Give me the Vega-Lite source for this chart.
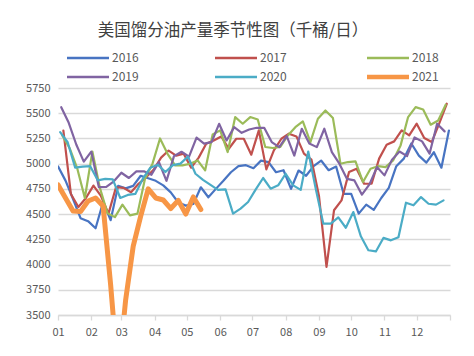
{
  "$schema": "https://vega.github.io/schema/vega-lite/v6.json",
  "width": 392,
  "height": 227,
  "autosize": {"type": "none"},
  "padding": {"left": 58, "top": 88, "right": 24, "bottom": 41},
  "background": "white",
  "config": {
    "view": {"stroke": null},
    "font": "Noto Sans CJK SC"
  },
  "title": {
    "text": "美国馏分油产量季节性图（千桶/日）",
    "font": "Noto Sans CJK SC",
    "fontSize": 16.5,
    "fontWeight": "normal",
    "color": "#404040",
    "anchor": "middle",
    "frame": "group",
    "dx": -21,
    "dy": -3,
    "offset": 10
  },
  "data": {
    "values": [
      {"s":"2016","d":0,"v":4974},{"s":"2016","d":7,"v":4832},{"s":"2016","d":14,"v":4650},{"s":"2016","d":21,"v":4460},{"s":"2016","d":28,"v":4430},{"s":"2016","d":35,"v":4360},{"s":"2016","d":42,"v":4620},{"s":"2016","d":49,"v":4440},{"s":"2016","d":56,"v":4780},{"s":"2016","d":63,"v":4755},
      {"s":"2016","d":70,"v":4780},{"s":"2016","d":77,"v":4880},{"s":"2016","d":84,"v":4855},{"s":"2016","d":91,"v":4830},{"s":"2016","d":98,"v":4785},{"s":"2016","d":105,"v":4715},{"s":"2016","d":112,"v":4615},{"s":"2016","d":119,"v":4584},{"s":"2016","d":126,"v":4600},{"s":"2016","d":133,"v":4766},
      {"s":"2016","d":140,"v":4667},{"s":"2016","d":147,"v":4750},{"s":"2016","d":154,"v":4830},{"s":"2016","d":161,"v":4915},{"s":"2016","d":168,"v":4975},{"s":"2016","d":175,"v":4985},{"s":"2016","d":182,"v":4955},{"s":"2016","d":189,"v":5030},{"s":"2016","d":196,"v":5015},{"s":"2016","d":203,"v":4915},
      {"s":"2016","d":210,"v":4935},{"s":"2016","d":217,"v":4750},{"s":"2016","d":224,"v":4932},{"s":"2016","d":231,"v":4880},{"s":"2016","d":238,"v":4975},{"s":"2016","d":245,"v":5031},{"s":"2016","d":252,"v":4935},{"s":"2016","d":259,"v":4971},{"s":"2016","d":266,"v":4700},{"s":"2016","d":273,"v":4700},
      {"s":"2016","d":280,"v":4505},{"s":"2016","d":287,"v":4594},{"s":"2016","d":294,"v":4542},{"s":"2016","d":301,"v":4660},{"s":"2016","d":308,"v":4760},{"s":"2016","d":315,"v":4975},{"s":"2016","d":322,"v":5050},{"s":"2016","d":329,"v":5200},{"s":"2016","d":336,"v":5080},{"s":"2016","d":343,"v":5010},
      {"s":"2016","d":350,"v":5113},{"s":"2016","d":357,"v":4960},{"s":"2016","d":364,"v":5328},

      {"s":"2017","d":5,"v":5328},{"s":"2017","d":12,"v":4700},{"s":"2017","d":19,"v":4570},{"s":"2017","d":26,"v":4660},{"s":"2017","d":33,"v":4783},{"s":"2017","d":40,"v":4680},{"s":"2017","d":47,"v":4505},{"s":"2017","d":54,"v":4766},{"s":"2017","d":61,"v":4760},{"s":"2017","d":68,"v":4716},
      {"s":"2017","d":75,"v":4800},{"s":"2017","d":82,"v":4865},{"s":"2017","d":89,"v":4940},{"s":"2017","d":96,"v":5060},{"s":"2017","d":103,"v":5130},{"s":"2017","d":110,"v":5080},{"s":"2017","d":117,"v":5099},{"s":"2017","d":124,"v":4960},{"s":"2017","d":131,"v":5060},{"s":"2017","d":138,"v":5197},
      {"s":"2017","d":145,"v":5230},{"s":"2017","d":152,"v":5270},{"s":"2017","d":159,"v":5148},{"s":"2017","d":166,"v":5247},{"s":"2017","d":173,"v":5247},{"s":"2017","d":180,"v":5089},{"s":"2017","d":187,"v":5330},{"s":"2017","d":194,"v":4943},{"s":"2017","d":201,"v":5131},{"s":"2017","d":208,"v":5247},
      {"s":"2017","d":215,"v":5297},{"s":"2017","d":222,"v":5270},{"s":"2017","d":229,"v":5100},{"s":"2017","d":236,"v":5040},{"s":"2017","d":243,"v":4680},{"s":"2017","d":250,"v":3976},{"s":"2017","d":257,"v":4538},{"s":"2017","d":264,"v":4636},{"s":"2017","d":271,"v":4917},{"s":"2017","d":278,"v":4950},
      {"s":"2017","d":285,"v":4801},{"s":"2017","d":292,"v":4801},{"s":"2017","d":299,"v":5050},{"s":"2017","d":306,"v":5188},{"s":"2017","d":313,"v":5221},{"s":"2017","d":320,"v":5330},{"s":"2017","d":327,"v":5280},{"s":"2017","d":334,"v":5396},{"s":"2017","d":341,"v":5254},{"s":"2017","d":348,"v":5214},
      {"s":"2017","d":355,"v":5400},{"s":"2017","d":362,"v":5594},

      {"s":"2018","d":4,"v":5280},{"s":"2018","d":11,"v":5150},{"s":"2018","d":18,"v":4950},{"s":"2018","d":25,"v":4660},{"s":"2018","d":32,"v":5120},{"s":"2018","d":39,"v":4760},{"s":"2018","d":46,"v":4510},{"s":"2018","d":53,"v":4470},{"s":"2018","d":60,"v":4594},{"s":"2018","d":67,"v":4488},
      {"s":"2018","d":74,"v":4505},{"s":"2018","d":81,"v":4851},{"s":"2018","d":88,"v":5000},{"s":"2018","d":95,"v":5250},{"s":"2018","d":102,"v":5098},{"s":"2018","d":109,"v":4983},{"s":"2018","d":116,"v":4983},{"s":"2018","d":123,"v":4999},{"s":"2018","d":130,"v":5032},{"s":"2018","d":137,"v":4933},
      {"s":"2018","d":144,"v":5290},{"s":"2018","d":151,"v":5330},{"s":"2018","d":158,"v":5115},{"s":"2018","d":165,"v":5462},{"s":"2018","d":172,"v":5396},{"s":"2018","d":179,"v":5462},{"s":"2018","d":186,"v":5438},{"s":"2018","d":193,"v":5165},{"s":"2018","d":200,"v":5155},{"s":"2018","d":207,"v":5165},
      {"s":"2018","d":214,"v":5280},{"s":"2018","d":221,"v":5362},{"s":"2018","d":228,"v":5419},{"s":"2018","d":235,"v":5214},{"s":"2018","d":242,"v":5445},{"s":"2018","d":249,"v":5527},{"s":"2018","d":256,"v":5452},{"s":"2018","d":263,"v":4999},{"s":"2018","d":270,"v":5016},{"s":"2018","d":277,"v":5023},
      {"s":"2018","d":284,"v":4818},{"s":"2018","d":291,"v":4950},{"s":"2018","d":298,"v":4975},{"s":"2018","d":305,"v":4966},{"s":"2018","d":312,"v":5032},{"s":"2018","d":319,"v":5181},{"s":"2018","d":326,"v":5462},{"s":"2018","d":333,"v":5560},{"s":"2018","d":340,"v":5537},{"s":"2018","d":347,"v":5386},
      {"s":"2018","d":354,"v":5428},{"s":"2018","d":361,"v":5584},

      {"s":"2019","d":3,"v":5560},{"s":"2019","d":10,"v":5405},{"s":"2019","d":17,"v":5190},{"s":"2019","d":24,"v":5020},{"s":"2019","d":31,"v":5120},{"s":"2019","d":38,"v":4768},{"s":"2019","d":45,"v":4770},{"s":"2019","d":52,"v":4825},{"s":"2019","d":59,"v":4910},{"s":"2019","d":66,"v":4858},
      {"s":"2019","d":73,"v":4924},{"s":"2019","d":80,"v":4924},{"s":"2019","d":87,"v":4890},{"s":"2019","d":94,"v":5016},{"s":"2019","d":101,"v":4830},{"s":"2019","d":108,"v":5075},{"s":"2019","d":115,"v":5118},{"s":"2019","d":122,"v":5070},{"s":"2019","d":129,"v":5258},{"s":"2019","d":136,"v":5198},
      {"s":"2019","d":143,"v":5214},{"s":"2019","d":150,"v":5395},{"s":"2019","d":157,"v":5230},{"s":"2019","d":164,"v":5362},{"s":"2019","d":171,"v":5306},{"s":"2019","d":178,"v":5339},{"s":"2019","d":185,"v":5356},{"s":"2019","d":192,"v":5355},{"s":"2019","d":199,"v":5214},{"s":"2019","d":206,"v":5164},
      {"s":"2019","d":213,"v":5273},{"s":"2019","d":220,"v":5080},{"s":"2019","d":227,"v":5346},{"s":"2019","d":234,"v":5200},{"s":"2019","d":241,"v":5164},{"s":"2019","d":248,"v":5346},{"s":"2019","d":255,"v":5115},{"s":"2019","d":262,"v":5000},{"s":"2019","d":269,"v":4850},{"s":"2019","d":276,"v":4834},
      {"s":"2019","d":283,"v":4693},{"s":"2019","d":290,"v":4795},{"s":"2019","d":297,"v":4966},{"s":"2019","d":304,"v":4884},{"s":"2019","d":311,"v":5040},{"s":"2019","d":318,"v":5120},{"s":"2019","d":325,"v":5075},{"s":"2019","d":332,"v":5260},{"s":"2019","d":339,"v":5221},{"s":"2019","d":346,"v":5100},
      {"s":"2019","d":353,"v":5396},{"s":"2019","d":360,"v":5320},

      {"s":"2020","d":2,"v":5313},{"s":"2020","d":9,"v":5212},{"s":"2020","d":16,"v":4960},{"s":"2020","d":23,"v":4970},{"s":"2020","d":30,"v":4975},{"s":"2020","d":37,"v":4835},{"s":"2020","d":44,"v":4850},{"s":"2020","d":51,"v":4845},{"s":"2020","d":58,"v":4660},{"s":"2020","d":65,"v":4690},
      {"s":"2020","d":72,"v":4700},{"s":"2020","d":79,"v":4851},{"s":"2020","d":86,"v":4960},{"s":"2020","d":93,"v":4990},{"s":"2020","d":100,"v":4917},{"s":"2020","d":107,"v":4985},{"s":"2020","d":114,"v":5000},{"s":"2020","d":121,"v":5070},{"s":"2020","d":128,"v":4900},{"s":"2020","d":135,"v":4840},
      {"s":"2020","d":142,"v":4790},{"s":"2020","d":149,"v":4740},{"s":"2020","d":156,"v":4745},{"s":"2020","d":163,"v":4505},{"s":"2020","d":170,"v":4554},{"s":"2020","d":177,"v":4620},{"s":"2020","d":184,"v":4742},{"s":"2020","d":191,"v":4858},{"s":"2020","d":198,"v":4752},{"s":"2020","d":205,"v":4785},
      {"s":"2020","d":212,"v":4900},{"s":"2020","d":219,"v":4785},{"s":"2020","d":226,"v":4740},{"s":"2020","d":233,"v":5120},{"s":"2020","d":240,"v":4750},{"s":"2020","d":247,"v":4406},{"s":"2020","d":254,"v":4406},{"s":"2020","d":261,"v":4468},{"s":"2020","d":268,"v":4365},{"s":"2020","d":275,"v":4520},
      {"s":"2020","d":282,"v":4280},{"s":"2020","d":289,"v":4142},{"s":"2020","d":296,"v":4130},{"s":"2020","d":303,"v":4264},{"s":"2020","d":310,"v":4240},{"s":"2020","d":317,"v":4270},{"s":"2020","d":324,"v":4613},{"s":"2020","d":331,"v":4587},{"s":"2020","d":338,"v":4669},{"s":"2020","d":345,"v":4603},
      {"s":"2020","d":352,"v":4594},{"s":"2020","d":359,"v":4636},

      {"s":"2021","d":0,"v":4790},{"s":"2021","d":7,"v":4660},{"s":"2021","d":14,"v":4530},{"s":"2021","d":21,"v":4525},{"s":"2021","d":28,"v":4630},{"s":"2021","d":35,"v":4660},{"s":"2021","d":42,"v":4580},{"s":"2021","d":49,"v":3800},{"s":"2021","d":56,"v":2900},{"s":"2021","d":63,"v":3650},
      {"s":"2021","d":70,"v":4180},{"s":"2021","d":77,"v":4480},{"s":"2021","d":84,"v":4750},{"s":"2021","d":91,"v":4660},{"s":"2021","d":98,"v":4640},{"s":"2021","d":105,"v":4555},{"s":"2021","d":112,"v":4636},{"s":"2021","d":119,"v":4500},{"s":"2021","d":126,"v":4670},{"s":"2021","d":133,"v":4545}
    ]
  },
  "mark": {"type": "line", "clip": true, "strokeJoin": "round", "strokeCap": "round"},
  "encoding": {
    "x": {
      "field": "d",
      "type": "quantitative",
      "scale": {"domain": [0, 365], "nice": false, "zero": false},
      "axis": {
        "title": null,
        "values": [0, 31, 59, 90, 120, 151, 181, 212, 243, 273, 304, 334, 365],
        "labelExpr": "datum.value >= 365 ? '' : timeFormat(datetime(2021, 0, 1 + datum.value), '%m')",
        "grid": false,
        "domainColor": "#d9d9d9",
        "domainWidth": 1.3,
        "tickColor": "#d9d9d9",
        "tickWidth": 1.3,
        "tickSize": 5,
        "labelPadding": 6,
        "labelFlush": false,
        "labelOverlap": false,
        "labelFont": "Noto Sans CJK SC",
        "labelFontSize": 11,
        "labelColor": "#595959"
      }
    },
    "y": {
      "field": "v",
      "type": "quantitative",
      "scale": {"domain": [3500, 5750], "nice": false, "zero": false},
      "axis": {
        "title": null,
        "format": "d",
        "values": [3500, 3750, 4000, 4250, 4500, 4750, 5000, 5250, 5500, 5750],
        "grid": true,
        "gridColor": "#d9d9d9",
        "gridWidth": 1.3,
        "domain": false,
        "ticks": false,
        "labelPadding": 8,
        "labelFont": "Noto Sans CJK SC",
        "labelFontSize": 11,
        "labelColor": "#595959"
      }
    },
    "color": {
      "field": "s",
      "type": "nominal",
      "scale": {
        "domain": ["2016", "2017", "2018", "2019", "2020", "2021"],
        "range": ["#4874C2", "#C0504D", "#9BBB59", "#8064A2", "#4BACC6", "#F79646"]
      },
      "legend": {
        "title": null,
        "orient": "none",
        "legendX": 24,
        "legendY": -36,
        "direction": "horizontal",
        "columns": 3,
        "symbolType": "M-3,0H3",
        "symbolSize": 196,
        "symbolStrokeWidth": 2.5,
        "columnPadding": 71,
        "rowPadding": 4,
        "labelOffset": 18,
        "labelFont": "Noto Sans CJK SC",
        "labelFontSize": 12,
        "labelColor": "#595959",
        "encode": {
          "symbols": {
            "update": {
              "strokeWidth": {"signal": "datum.value === '2021' ? 4.5 : 2.5"}
            }
          }
        }
      }
    },
    "strokeWidth": {
      "condition": {"test": "datum.s === '2021'", "value": 5},
      "value": 2.2
    }
  }
}
